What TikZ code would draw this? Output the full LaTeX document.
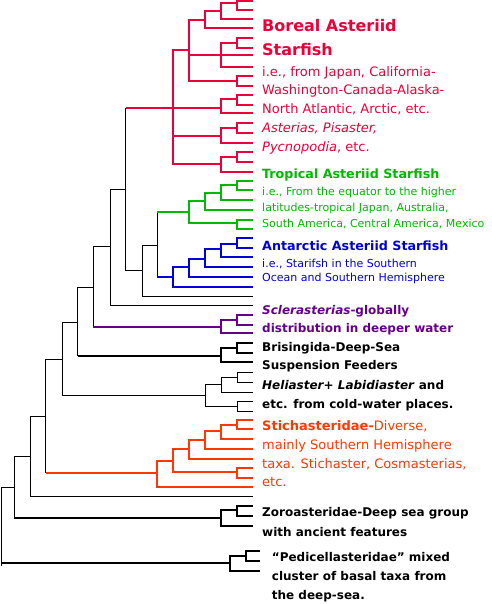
\documentclass[tikz,border=0pt]{standalone}
\usepackage{fontspec}
\setmainfont{DejaVu Sans}
\usepackage{tikz}

\definecolor{boreal}{RGB}{235,0,55}
\definecolor{tropical}{RGB}{0,185,0}
\definecolor{antartico}{RGB}{0,0,215}
\definecolor{sclera}{RGB}{100,0,140}
\definecolor{sticha}{RGB}{255,55,0}

\begin{document}
\begin{tikzpicture}[x=1pt, y=-1pt,
    rama/.style={line width=1pt},
    gruesa/.style={line width=2pt},
    roja/.style={gruesa, draw=boreal},
    verde/.style={gruesa, draw=tropical},
    azul/.style={gruesa, draw=antartico},
    morada/.style={gruesa, draw=sclera},
    naranja/.style={gruesa, draw=sticha},
    etiqueta/.style={anchor=base west, inner sep=0pt, align=left}]

\useasboundingbox (0,0) rectangle (491,604);

% Nodos internos
\coordinate (N0) at (1.7,565.7);
\coordinate (N1) at (14,487.3);
\coordinate (N2) at (30.3,456);
\coordinate (N3) at (45.7,416.7);
\coordinate (N4) at (62.3,359);
\coordinate (N5) at (77.5,322.3);
\coordinate (N6) at (93.3,287.3);
\coordinate (N7) at (110.5,246);
\coordinate (N8) at (125.5,189.3);
\coordinate (N9) at (142.5,270);
\coordinate (N10) at (157,245.3);

\coordinate (R0) at (172.7,107.7);
\coordinate (R1) at (189,50);
\coordinate (R2) at (220.7,107.7);
\coordinate (R3) at (220.7,136);
\coordinate (R4) at (220.7,164.3);
\coordinate (R5) at (205,20);
\coordinate (R6) at (220.7,55);
\coordinate (R7) at (237,81);
\coordinate (R8) at (220.7,10.7);
\coordinate (R9) at (237,3.3);
\coordinate (R10) at (237,42.7);
\coordinate (R11) at (237,99.3);
\coordinate (R12) at (237,127.7);
\coordinate (R13) at (237,156.7);

\coordinate (G0) at (189,211.7);
\coordinate (G1) at (205,200.7);
\coordinate (G2) at (236.7,222.7);
\coordinate (G3) at (220.7,192.7);
\coordinate (G4) at (236.7,185);

\coordinate (B0) at (172.7,276.7);
\coordinate (B1) at (189,266.7);
\coordinate (B2) at (205,259);
\coordinate (B3) at (220.7,249.3);
\coordinate (B4) at (236.7,244.3);

\coordinate (S0) at (220.7,326.7);
\coordinate (S1) at (236.7,320);
\coordinate (K0) at (220.7,356);
\coordinate (K1) at (236.7,347.7);
\coordinate (H0) at (205.7,395.7);
\coordinate (H1) at (221.7,384.3);
\coordinate (H2) at (237.3,406.7);
\coordinate (H3) at (237.3,377.3);

\coordinate (O0) at (156.7,473.3);
\coordinate (O1) at (172.7,460.7);
\coordinate (O2) at (189,449);
\coordinate (O3) at (236.7,471.7);
\coordinate (O4) at (204.7,440);
\coordinate (O5) at (220.7,431);
\coordinate (O6) at (236.7,425);

\coordinate (Z0) at (220.7,518.3);
\coordinate (Z1) at (236.7,510);
\coordinate (P0) at (230,562.7);
\coordinate (P1) at (246,555.7);

% Hojas
\foreach \i/\y in {1/1,2/10,3/19,4/27.7,5/37.7,6/47.7,7/55,8/66.7,9/76,10/85.7,
    11/95,12/105,13/113.3,14/123.3,15/133.3,16/142.7,17/152.3,18/161.7,19/171.7}
  \coordinate (r\i) at (252.7,\y);
\foreach \i/\y in {1/180.7,2/190,3/200,4/210,5/220,6/229}
  \coordinate (g\i) at (252.7,\y);
\foreach \i/\y in {1/237.7,2/247.7,3/256.7,4/266.7,5/276.7,6/286.7}
  \coordinate (b\i) at (252.7,\y);
\foreach \i/\y in {1/314.7,2/324.7,3/333.3}
  \coordinate (s\i) at (252.7,\y);
\foreach \i/\y in {1/343.3,2/353.3,3/361.7}
  \coordinate (k\i) at (252.7,\y);
\foreach \i/\y in {1/372.3,2/382.3,3/392.3,4/401,5/411}
  \coordinate (h\i) at (253.3,\y);
\foreach \i/\y in {1/420,2/429,3/439,4/449,5/459,6/467.7,7/477.7,8/486.7}
  \coordinate (o\i) at (252.7,\y);
\foreach \i/\y in {1/505.7,2/515.7,3/525.7}
  \coordinate (z\i) at (252.7,\y);
\foreach \i/\y in {1/550.7,2/560.7,3/571}
  \coordinate (p\i) at (260,\y);
\coordinate (n1) at (252.7,296);
\coordinate (n2) at (252.7,305.3);
\coordinate (n3) at (252.7,496.7);

% Ramas negras
\foreach \a/\b in {N0/N1,N1/N2,N2/N3,N2/n3,N3/N4,N4/N5,N4/H0,N5/N6,N6/N7,
    N7/N8,N7/n2,N8/N9,N9/N10,N9/n1,H0/H1,H0/H2,H1/H3,H1/h3,H3/h1,H3/h2,H2/h4,H2/h5}
  \draw[rama] (\a) |- (\b);
\foreach \a/\b in {N0/P0,N1/Z0,N5/K0,N6/S0,N3/O0,N8/R0,N10/G0,N10/B0}
  \draw[rama] (\a) -- (\a |- \b);

% Ramas de color
\draw[gruesa] (N0 |- P0) -- (P0);
\draw[gruesa] (N1 |- Z0) -- (Z0);
\draw[gruesa] (N5 |- K0) -- (K0);
\draw[morada] (N6 |- S0) -- (S0);
\draw[naranja] (N3 |- O0) -- (O0);
\draw[roja] (N8 |- R0) -- (R0);
\draw[verde] (N10 |- G0) -- (G0);
\draw[azul] (N10 |- B0) -- (B0);

\foreach \a/\b in {R0/R1,R0/R2,R0/R3,R0/R4,R1/R5,R1/R6,R1/R7,R5/R8,R5/r4,R8/R9,R8/r3,
    R9/r1,R9/r2,R6/R10,R6/r7,R6/r8,R10/r5,R10/r6,R7/r9,R7/r10,R2/R11,R2/r13,
    R11/r11,R11/r12,R3/R12,R3/r16,R12/r14,R12/r15,R4/R13,R4/r19,R13/r17,R13/r18}
  \draw[roja] (\a) |- (\b);
\foreach \a/\b in {G0/G1,G0/G2,G1/G3,G1/g4,G3/G4,G3/g3,G4/g1,G4/g2,G2/g5,G2/g6}
  \draw[verde] (\a) |- (\b);
\foreach \a/\b in {B0/B1,B0/b6,B1/B2,B1/b5,B2/B3,B2/b4,B3/B4,B3/b3,B4/b1,B4/b2}
  \draw[azul] (\a) |- (\b);
\foreach \a/\b in {S0/S1,S0/s3,S1/s1,S1/s2}
  \draw[morada] (\a) |- (\b);
\foreach \a/\b in {O0/O1,O0/o8,O1/O2,O1/O3,O2/O4,O2/o5,O4/O5,O4/o4,O5/O6,O5/o3,
    O6/o1,O6/o2,O3/o6,O3/o7}
  \draw[naranja] (\a) |- (\b);
\foreach \a/\b in {K0/K1,K0/k3,K1/k1,K1/k2,Z0/Z1,Z0/z3,Z1/z1,Z1/z2,P0/P1,P0/p3,P1/p1,P1/p2}
  \draw[gruesa] (\a) |- (\b);

% Etiquetas (base de la ultima linea)
\node[etiqueta, text=boreal, font=\fontsize{16}{24}\selectfont\bfseries] (tBoreal) at (262,55.7)
  {Boreal Asteriid\\Starfish};
\node[etiqueta, text=boreal, font=\fontsize{13}{18.9}\selectfont] (tBorealTxt) at (262,151.7)
  {i.e., from Japan, California-\\Washington-Canada-Alaska-\\North Atlantic, Arctic, etc.\\
   \textit{Asterias, Pisaster,}\\\textit{Pycnopodia}, etc.};
\node[etiqueta, text=tropical, font=\fontsize{12.7}{16}\selectfont\bfseries] (tTropical) at (262,178.3)
  {Tropical Asteriid Starfish};
\node[etiqueta, text=tropical, font=\fontsize{11}{16}\selectfont] (tTropicalTxt) at (262,227.7)
  {i.e., From the equator to the higher\\latitudes-tropical Japan, Australia,\\South America, Central America, Mexico};
\node[etiqueta, text=antartico, font=\fontsize{12.7}{16}\selectfont\bfseries] (tAntartico) at (262,250)
  {Antarctic Asteriid Starfish};
\node[etiqueta, text=antartico, font=\fontsize{11}{14}\selectfont] (tAntarticoTxt) at (262,281.7)
  {i.e., Starifsh in the Southern\\Ocean and Southern Hemisphere};
\node[etiqueta, text=sclera, font=\fontsize{12}{18.7}\selectfont\bfseries] (tSclera) at (262,332.7)
  {\textit{Sclerasterias}-globally\\distribution in deeper water};
\node[etiqueta, font=\fontsize{12}{18}\selectfont\bfseries] (tBrising) at (262,369)
  {Brisingida-Deep-Sea\\Suspension Feeders};
\node[etiqueta, font=\fontsize{12}{19.3}\selectfont\bfseries] (tHeliaster) at (262,408.3)
  {\textit{Heliaster+ Labidiaster} and\\etc. from cold-water places.};
\node[etiqueta, text=sticha, font=\fontsize{13}{18.7}\selectfont] (tSticha) at (262,486.7)
  {\textbf{Stichasteridae-}Diverse,\\mainly Southern Hemisphere\\taxa. Stichaster, Cosmasterias,\\etc.};
\node[etiqueta, font=\fontsize{12}{19.3}\selectfont\bfseries] (tZoro) at (262,536)
  {Zoroasteridae-Deep sea group\\with ancient features};
\node[etiqueta, font=\fontsize{12}{19}\selectfont\bfseries] (tPedic) at (271.7,599)
  {“Pedicellasteridae” mixed\\cluster of basal taxa from\\the deep-sea.};
\end{tikzpicture}
\end{document}
